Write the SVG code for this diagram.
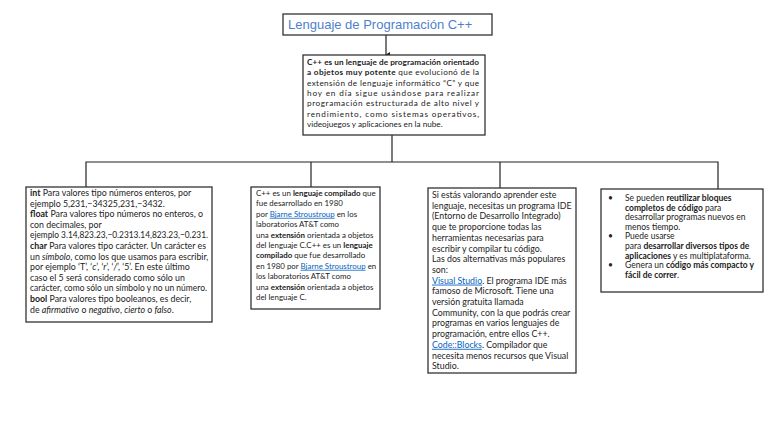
<svg xmlns="http://www.w3.org/2000/svg" width="768" height="433" viewBox="0 0 768 433">
<defs>
<marker id="arr" markerWidth="6" markerHeight="6" refX="3" refY="5" orient="auto" markerUnits="userSpaceOnUse" viewBox="0 0 6 6">
<path d="M0,1 L6,1 L3,6 z" fill="#222"/>
</marker>
<style>
.box{fill:#fff;stroke:#333;stroke-width:1.3}
.ln{fill:none;stroke:#222;stroke-width:1.2}
.t{font-family:Lato,"Liberation Sans",sans-serif;font-size:8.4px;fill:#222}
.s1{font-size:8.2px}
.s2{font-size:8.8px}
.s3{font-size:7.9px}
.s4{font-size:8.8px}
.s5{font-size:8.5px}
.b{font-weight:bold}
.i{font-style:italic}
.a{fill:#0563C1;text-decoration:underline}
.title{font-family:"Liberation Sans",Arial,sans-serif;font-size:13px;fill:#4F7FCC}
</style>
</defs>
<rect width="768" height="433" fill="#fff"/>
<g id="connectors">
<line class="ln" x1="386" y1="35" x2="386" y2="55" marker-end="url(#arr)"/>
<line class="ln" x1="392" y1="135" x2="392" y2="162"/>
<polyline class="ln" points="86,187 86,162 718,162 718,189"/>
<line class="ln" x1="311" y1="162" x2="311" y2="187"/>
<line class="ln" x1="500" y1="162" x2="500" y2="188"/>
</g>
<g id="title">
<rect class="box" x="283" y="14" width="209" height="21"/>
<text class="title" x="288" y="29">Lenguaje de Programación C++</text>
</g>
<g id="intro">
<rect class="box" x="303" y="55" width="182" height="80"/>
<text class="t s1" x="307" y="65" textLength="172" lengthAdjust="spacing"><tspan class="b">C++ es un lenguaje de programación orientado</tspan></text>
<text class="t s1" x="307" y="75.3" textLength="172" lengthAdjust="spacing"><tspan class="b">a objetos muy potente</tspan> que evolucionó de la</text>
<text class="t s1" x="307" y="85.6" textLength="172" lengthAdjust="spacing">extensión de lenguaje informático “C” y que</text>
<text class="t s1" x="307" y="95.9" textLength="172" lengthAdjust="spacing">hoy en día sigue usándose para realizar</text>
<text class="t s1" x="307" y="106.2" textLength="172" lengthAdjust="spacing">programación estructurada de alto nivel y</text>
<text class="t s1" x="307" y="116.5" textLength="172" lengthAdjust="spacing">rendimiento, como sistemas operativos,</text>
<text class="t s1" x="307" y="126.8">videojuegos y aplicaciones en la nube.</text>
</g>
<g id="tipos">
<rect class="box" x="26" y="187" width="186" height="135"/>
<text class="t s2" x="30" y="196"><tspan class="b">int</tspan> Para valores tipo números enteros, por</text>
<text class="t s2" x="30" y="206.6">ejemplo 5,231,−34325,231,−3432.</text>
<text class="t s2" x="30" y="217.2"><tspan class="b">float</tspan> Para valores tipo números no enteros, o</text>
<text class="t s2" x="30" y="227.8">con decimales, por</text>
<text class="t s2" x="30" y="238.4" textLength="178" lengthAdjust="spacingAndGlyphs">ejemplo 3.14,823.23,−0.2313.14,823.23,−0.231.</text>
<text class="t s2" x="30" y="249"><tspan class="b">char</tspan> Para valores tipo carácter. Un carácter es</text>
<text class="t s2" x="30" y="259.6">un <tspan class="i">símbolo</tspan>, como los que usamos para escribir,</text>
<text class="t s2" x="30" y="270.2">por ejemplo ‘T’, ‘<tspan class="i">c</tspan>’, ‘<tspan class="i">r</tspan>’, ‘<tspan class="i">/</tspan>’, ‘5’. En este último</text>
<text class="t s2" x="30" y="280.8">caso el 5 será considerado como sólo un</text>
<text class="t s2" x="30" y="291.4" textLength="177" lengthAdjust="spacingAndGlyphs">carácter, como sólo un símbolo y no un número.</text>
<text class="t s2" x="30" y="302"><tspan class="b">bool</tspan> Para valores tipo booleanos, es decir,</text>
<text class="t s2" x="30" y="312.6">de <tspan class="i">afirmativo</tspan> o <tspan class="i">negativo</tspan>, <tspan class="i">cierto</tspan> o <tspan class="i">falso</tspan>.</text>
</g>
<g id="compilado">
<rect class="box" x="251" y="187" width="129" height="122"/>
<text class="t s3" x="256" y="196">C++ es un <tspan class="b">lenguaje compilado</tspan> que</text>
<text class="t s3" x="256" y="206.4">fue desarrollado en 1980</text>
<text class="t s3" x="256" y="216.8">por <tspan class="a">Bjarne Stroustroup</tspan> en los</text>
<text class="t s3" x="256" y="227.2">laboratorios AT&amp;T como</text>
<text class="t s3" x="256" y="237.6">una <tspan class="b">extensión</tspan> orientada a objetos</text>
<text class="t s3" x="256" y="248">del lenguaje C.C++ es un <tspan class="b">lenguaje</tspan></text>
<text class="t s3" x="256" y="258.4"><tspan class="b">compilado</tspan> que fue desarrollado</text>
<text class="t s3" x="256" y="268.8">en 1980 por <tspan class="a">Bjarne Stroustroup</tspan> en</text>
<text class="t s3" x="256" y="279.2">los laboratorios AT&amp;T como</text>
<text class="t s3" x="256" y="289.6">una <tspan class="b">extensión</tspan> orientada a objetos</text>
<text class="t s3" x="256" y="300">del lenguaje C.</text>
</g>
<g id="ide">
<rect class="box" x="428" y="188" width="148" height="185"/>
<text class="t s4" x="432" y="198">Si estás valorando aprender este</text>
<text class="t s4" x="432" y="208.7">lenguaje, necesitas un programa IDE</text>
<text class="t s4" x="432" y="219.4">(Entorno de Desarrollo Integrado)</text>
<text class="t s4" x="432" y="230.1">que te proporcione todas las</text>
<text class="t s4" x="432" y="240.8">herramientas necesarias para</text>
<text class="t s4" x="432" y="251.5">escribir y compilar tu código.</text>
<text class="t s4" x="432" y="262.2">Las dos alternativas más populares</text>
<text class="t s4" x="432" y="272.9">son:</text>
<text class="t s4" x="432" y="283.6"><tspan class="a">Visual Studio</tspan>. El programa IDE más</text>
<text class="t s4" x="432" y="294.3">famoso de Microsoft. Tiene una</text>
<text class="t s4" x="432" y="305">versión gratuita llamada</text>
<text class="t s4" x="432" y="315.7">Community, con la que podrás crear</text>
<text class="t s4" x="432" y="326.4">programas en varios lenguajes de</text>
<text class="t s4" x="432" y="337.1">programación, entre ellos C++.</text>
<text class="t s4" x="432" y="347.8"><tspan class="a">Code::Blocks</tspan>. Compilador que</text>
<text class="t s4" x="432" y="358.5">necesita menos recursos que Visual</text>
<text class="t s4" x="432" y="369.2">Studio.</text>
</g>
<g id="ventajas">
<rect class="box" x="601" y="189" width="162" height="103"/>
<text class="t s5" x="608" y="201">•</text>
<text class="t s5" x="625" y="201">Se pueden <tspan class="b">reutilizar bloques</tspan></text>
<text class="t s5" x="625" y="210.6"><tspan class="b">completos de código</tspan> para</text>
<text class="t s5" x="625" y="220.2">desarrollar programas nuevos en</text>
<text class="t s5" x="625" y="229.8">menos tiempo.</text>
<text class="t s5" x="608" y="239.4">•</text>
<text class="t s5" x="625" y="239.4">Puede usarse</text>
<text class="t s5" x="625" y="249">para <tspan class="b">desarrollar diversos tipos de</tspan></text>
<text class="t s5" x="625" y="258.6"><tspan class="b">aplicaciones</tspan> y es multiplataforma.</text>
<text class="t s5" x="608" y="268.2">•</text>
<text class="t s5" x="625" y="268.2">Genera un <tspan class="b">código más compacto y</tspan></text>
<text class="t s5" x="625" y="277.8"><tspan class="b">fácil de correr</tspan>.</text>
</g>
</svg>
